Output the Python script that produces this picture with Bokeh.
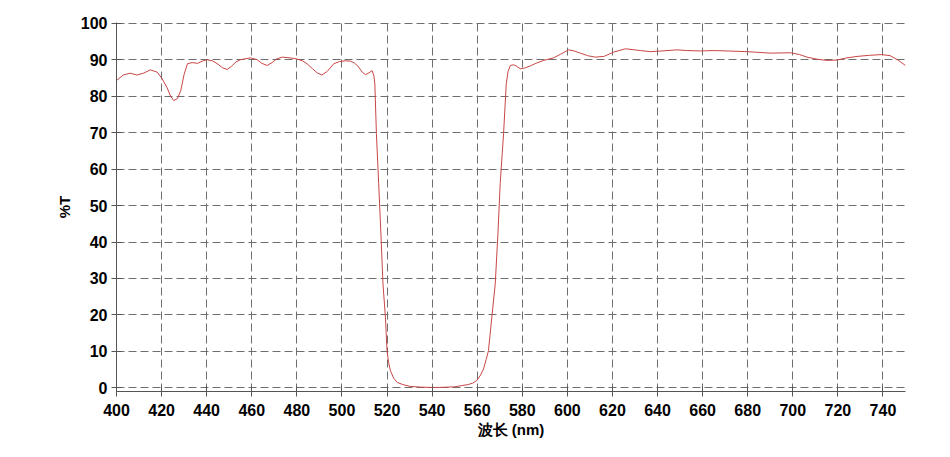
from bokeh.embed import file_html
from bokeh.models import FixedTicker, Range1d
from bokeh.plotting import figure
from bokeh.resources import INLINE

wavelength = [
    400, 403, 406, 409, 412, 415, 418, 420, 422.4, 424, 425.4, 427, 428.5, 430,
    431.5, 433.5, 436, 438, 440.2, 442.5, 444.7, 447, 449.1, 451, 453, 455,
    459.4, 462.4, 464.5, 466.8, 469, 471, 473.5, 477, 480, 482.5, 484.5, 487,
    489, 491.1, 493.5, 496.4, 499, 501.5, 503.8, 505.5, 507, 509, 510.5, 512,
    513.4, 514.2, 514.6, 515.3, 516.3, 517.3, 518.2, 519.3, 520, 520.7, 521.5,
    523, 524.5, 527, 530.3, 535, 540, 545, 550, 553, 556, 558, 559.8, 561.5,
    562.8, 564, 565, 566.5, 568, 569.2, 570.2, 571.7, 572.9, 573.7, 574.7,
    576.2, 577.5, 579.1, 581, 583.6, 586, 589.5, 593.9, 597, 600.6, 603, 605.8,
    609, 612.4, 616.2, 620.6, 625.8, 632.4, 636.8, 642, 648.6, 653, 659, 665,
    670.8, 679.7, 685, 690, 698.9, 703, 706.3, 711, 715.1, 719.6, 724, 728.5,
    734, 739.5, 743.2, 746.9, 750,
]
transmission = [
    84.3, 85.8, 86.3, 85.8, 86.3, 87.2, 86.6, 85.0, 82.4, 80.0, 78.8, 79.3, 81.5, 86.0,
    88.9, 89.2, 89.0, 89.6, 90.0, 89.7, 88.9, 87.8, 87.3, 88.2, 89.4, 90.0,
    90.5, 90.0, 89.0, 88.4, 89.2, 90.2, 90.7, 90.5, 90.2, 89.7, 88.9, 87.5,
    86.4, 85.8, 86.8, 88.9, 89.5, 89.7, 89.6, 89.1, 88.3, 86.6, 85.9, 86.4,
    87.0, 85.5, 83.4, 69.7, 56.0, 42.2, 28.5, 19.4, 10.2, 7.0, 4.7,
    2.6, 1.5, 0.9, 0.4, 0.2, 0.1, 0.15, 0.3, 0.6, 0.9, 1.3, 2.0, 3.5,
    5.2, 7.8, 10.2, 19.4, 28.5, 42.2, 56.0, 69.7, 83.4, 86.8, 88.4,
    88.6, 88.2, 87.5, 87.7, 88.3, 89.0, 89.8, 90.5, 91.5, 92.7, 92.4, 91.8,
    91.1, 90.7, 90.9, 92.1, 93.0, 92.5, 92.2, 92.4, 92.7, 92.5, 92.4, 92.5,
    92.4, 92.2, 92.0, 91.8, 91.9, 91.4, 90.7, 90.1, 89.8, 89.9, 90.5, 90.9,
    91.2, 91.4, 91.1, 89.8, 88.4,
]
x_ticks = list(range(400, 741, 20))
y_ticks = list(range(0, 101, 10))

p = figure(width=945, height=450, output_backend="svg", toolbar_location=None,
           x_range=Range1d(400, 750), y_range=Range1d(-1, 100.2),
           min_border_left=116, min_border_right=40,
           min_border_top=22, min_border_bottom=59)
p.outline_line_color = None

p.line(wavelength, transmission, line_color="#c94545", line_width=1)

for ax in (p.xaxis, p.yaxis):
    ax.major_label_text_font = "Liberation Sans"
    ax.major_label_text_font_style = "bold"
    ax.major_label_text_font_size = "16px"
    ax.major_label_text_color = "black"
    ax.axis_line_color = "#555555"
    ax.major_tick_line_color = "#555555"
    ax.major_tick_in = 5
    ax.major_tick_out = 5
    ax.minor_tick_line_color = None
    ax.axis_label_text_font = "Liberation Sans"
    ax.axis_label_text_font_style = "bold"
    ax.axis_label_text_font_size = "15px"
    ax.axis_label_text_color = "black"

p.xaxis.ticker = FixedTicker(ticks=x_ticks)
p.yaxis.ticker = FixedTicker(ticks=y_ticks)
p.xaxis.axis_label = "波长 (nm)"
p.yaxis.axis_label = "%T"
p.xaxis.major_label_standoff = 7
p.yaxis.major_label_standoff = 4
p.xaxis.axis_label_standoff = 2
p.yaxis.axis_label_standoff = 5

for g in (p.xgrid, p.ygrid):
    g.grid_line_color = "#6e6e6e"
    g.grid_line_dash = "8 4"
    g.grid_line_width = 1
p.xgrid.ticker = FixedTicker(ticks=x_ticks)
p.ygrid.ticker = FixedTicker(ticks=y_ticks)

open("out.html", "w").write(file_html(p, INLINE))
